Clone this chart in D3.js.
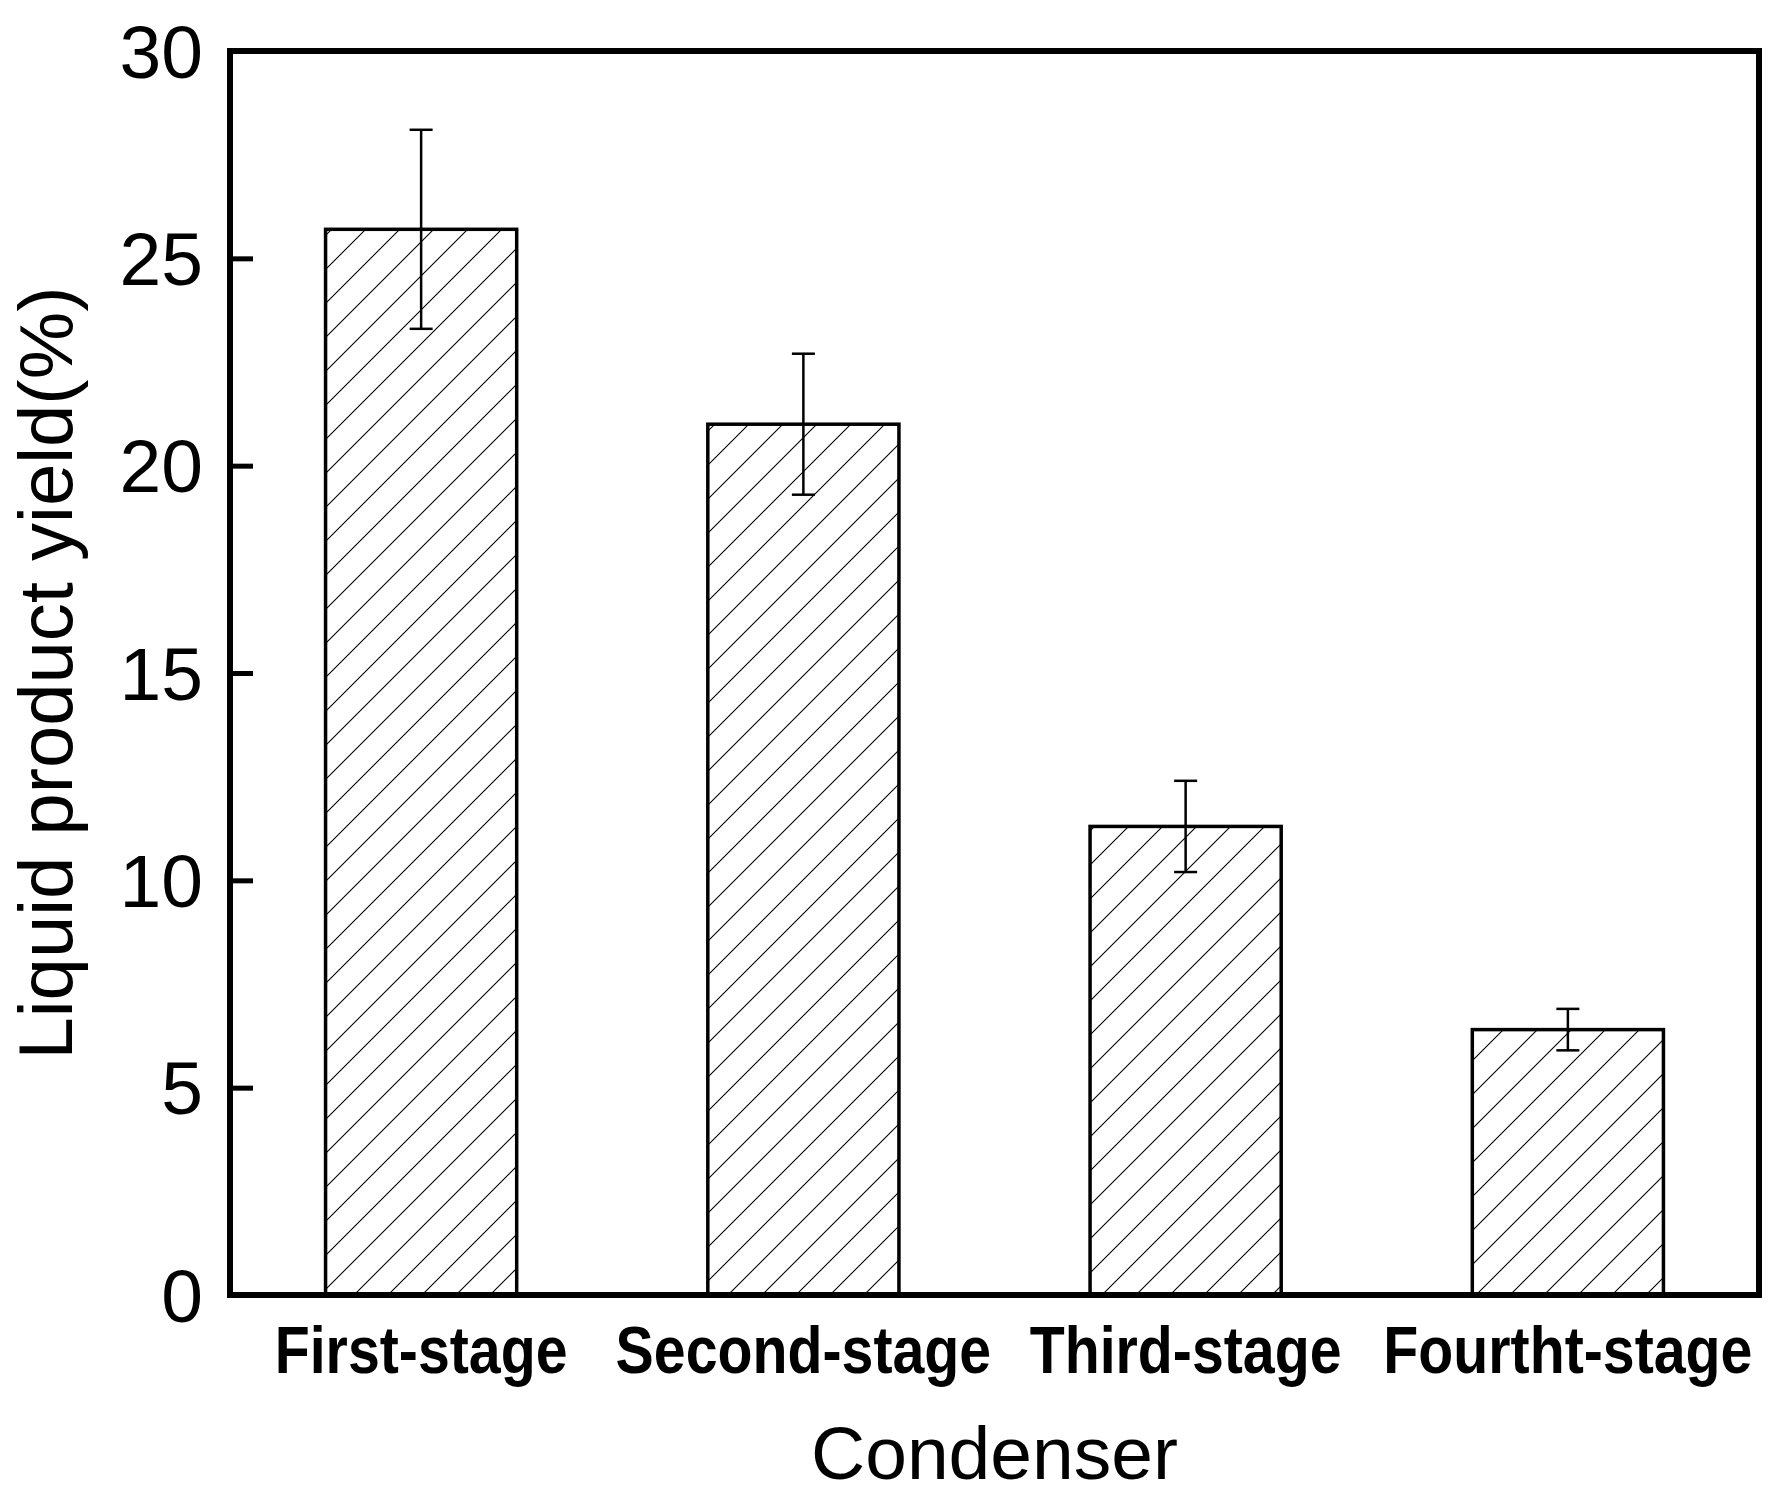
<!DOCTYPE html>
<html>
<head>
<meta charset="utf-8">
<script src="https://cdn.jsdelivr.net/npm/d3@7"></script>
<style>
  body { margin: 0; background: #fff; }
  svg { display: block; }
</style>
</head>
<body>
<svg width="1790" height="1502"></svg>
<script>
// chart data
const categories = ["First-stage", "Second-stage", "Third-stage", "Fourtht-stage"];
const yieldValues = [25.7, 21.0, 11.3, 6.4];
const yieldErrors = [2.4, 1.7, 1.1, 0.5];
const yTicks = [0, 5, 10, 15, 20, 25, 30];

const width = 1790, height = 1502;
const margin = { left: 230, right: 31, top: 51, bottom: 207 };
const font = "'Liberation Sans', Arial, sans-serif";

const svg = d3.select("svg");
svg.append("rect").attr("width", width).attr("height", height).attr("fill", "#fff");

// hatch pattern
const pat = svg.append("defs").append("pattern")
    .attr("id", "hatch")
    .attr("patternUnits", "userSpaceOnUse")
    .attr("width", 34).attr("height", 34)
    .attr("patternTransform", "translate(17,0)");
pat.append("path")
    .attr("d", "M-2,2 L2,-2 M0,34 L34,0 M32,36 L36,32")
    .attr("stroke", "#000")
    .attr("stroke-width", 1.1);

const x = d3.scaleBand()
    .domain(categories)
    .range([margin.left, width - margin.right])
    .paddingInner(0.5)
    .paddingOuter(0.25);

const y = d3.scaleLinear()
    .domain([0, 30])
    .range([height - margin.bottom, margin.top]);

// bars
svg.selectAll(".bar")
    .data(categories)
    .enter()
    .append("rect")
    .attr("class", "bar")
    .attr("x", d => x(d))
    .attr("y", (d, i) => y(yieldValues[i]))
    .attr("width", x.bandwidth())
    .attr("height", (d, i) => y(0) - y(yieldValues[i]))
    .attr("fill", "url(#hatch)")
    .attr("stroke", "#000")
    .attr("stroke-width", 3.5);

// error bars
const err = svg.selectAll(".err")
    .data(categories)
    .enter()
    .append("g")
    .attr("class", "err")
    .attr("stroke", "#000")
    .attr("stroke-width", 2.5);
const cx = d => x(d) + x.bandwidth() / 2;
err.append("line")
    .attr("x1", cx).attr("x2", cx)
    .attr("y1", (d, i) => y(yieldValues[i] + yieldErrors[i]))
    .attr("y2", (d, i) => y(yieldValues[i] - yieldErrors[i]));
err.append("line")
    .attr("x1", d => cx(d) - 11.5).attr("x2", d => cx(d) + 11.5)
    .attr("y1", (d, i) => y(yieldValues[i] + yieldErrors[i]))
    .attr("y2", (d, i) => y(yieldValues[i] + yieldErrors[i]));
err.append("line")
    .attr("x1", d => cx(d) - 11.5).attr("x2", d => cx(d) + 11.5)
    .attr("y1", (d, i) => y(yieldValues[i] - yieldErrors[i]))
    .attr("y2", (d, i) => y(yieldValues[i] - yieldErrors[i]));

// y axis, ticks pointing inward
const yAxis = svg.append("g")
    .attr("transform", `translate(${margin.left},0)`)
    .call(d3.axisLeft(y).tickValues(yTicks).tickSize(-23).tickPadding(27));
yAxis.select(".domain").remove();
yAxis.selectAll(".tick line").attr("stroke", "#000").attr("stroke-width", 5);
yAxis.selectAll(".tick text")
    .attr("fill", "#000")
    .attr("font-family", font)
    .attr("font-size", 75)
    .attr("dy", "0.35em");

// frame
svg.append("rect")
    .attr("x", margin.left)
    .attr("y", margin.top)
    .attr("width", width - margin.right - margin.left)
    .attr("height", height - margin.bottom - margin.top)
    .attr("fill", "none")
    .attr("stroke", "#000")
    .attr("stroke-width", 6);

// category labels (bold, slightly condensed)
svg.selectAll(".cat")
    .data(categories)
    .enter()
    .append("text")
    .attr("class", "cat")
    .attr("transform", d => `translate(${cx(d)},1373) scale(0.855,1)`)
    .attr("text-anchor", "middle")
    .attr("font-family", font)
    .attr("font-weight", "bold")
    .attr("font-size", 67)
    .text(d => d);

// axis titles
svg.append("text")
    .attr("x", (margin.left + width - margin.right) / 2)
    .attr("y", 1479)
    .attr("text-anchor", "middle")
    .attr("font-family", font)
    .attr("font-size", 75)
    .text("Condenser");

svg.append("text")
    .attr("transform", `translate(72,${(margin.top + height - margin.bottom) / 2}) rotate(-90)`)
    .attr("text-anchor", "middle")
    .attr("font-family", font)
    .attr("font-size", 76)
    .text("Liquid product yield(%)");
</script>
</body>
</html>
